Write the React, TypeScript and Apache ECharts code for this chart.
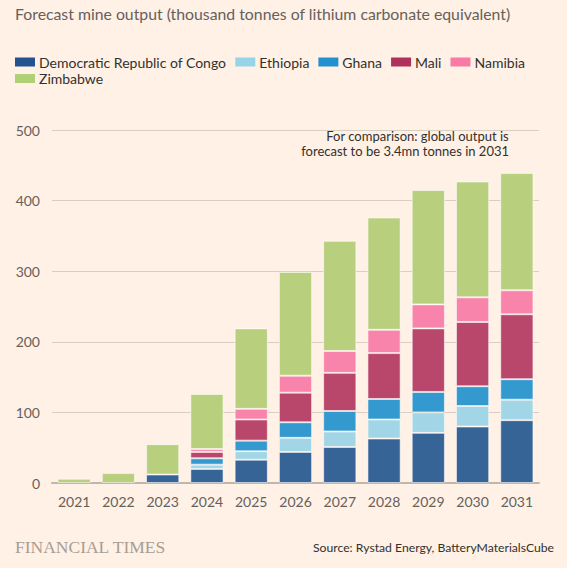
import React, { useEffect, useRef } from "react";
import * as echarts from "echarts";

const years = ["2021", "2022", "2023", "2024", "2025", "2026", "2027", "2028", "2029", "2030", "2031"];
const congo = [null, null, 12, 20, 33, 44, 51, 63, 71, 80, 89];
const ethiopia = [null, null, null, 6, 12, 20, 22, 27, 29, 29, 29];
const ghana = [null, null, null, 9, 15, 22, 29, 29, 29, 28, 29];
const mali = [null, null, null, 9, 30, 42, 54, 65, 90, 91, 92];
const namibia = [null, null, null, 4, 15, 24, 31, 33, 34, 35, 34];
const zimbabwe = [6, 14, 43, 78, 114, 147, 156, 159, 162, 164, 166];

const seriesNames = ["Democratic Republic of Congo", "Ethiopia", "Ghana", "Mali", "Namibia", "Zimbabwe"];
const seriesData = [congo, ethiopia, ghana, mali, namibia, zimbabwe];
const barColors = ["#376497", "#a2d5e6", "#3399cf", "#b9476b", "#f984ab", "#b8cf7e"];
const legendColors = ["#22538f", "#96d4e8", "#2390d0", "#b0305c", "#fa7aa6", "#b0d075"];

const annotationLines = ["For comparison: global output is", "forecast to be 3.4mn tonnes in 2031"];

const FONT = "Lato, 'Noto Sans', sans-serif";

export default function App() {
  const ref = useRef<HTMLDivElement>(null);
  useEffect(() => {
    if (!ref.current) return;
    const chart = echarts.init(ref.current, undefined, { renderer: "svg" });
    const legendItem = (i: number) => ({
      name: seriesNames[i],
      itemStyle: { color: legendColors[i], borderWidth: 0 },
    });
    const legendBase = {
      left: 15,
      padding: 0,
      itemWidth: 20,
      itemHeight: 9,
      itemGap: 9,
      icon: "rect",
      textStyle: { fontFamily: FONT, fontSize: 14, color: "#33302e", padding: [0, 0, 0, -1] },
      selectedMode: false,
    };
    chart.setOption({
      animation: false,
      backgroundColor: "#fff1e5",
      textStyle: { fontFamily: FONT },
      title: {
        text: "Forecast mine output (thousand tonnes of lithium carbonate equivalent)",
        left: 10,
        top: 0,
        textStyle: { fontFamily: FONT, fontSize: 15.8, fontWeight: "normal", color: "#66605c" },
      },
      legend: [
        { ...legendBase, data: [0, 1, 2, 3, 4].map(legendItem), top: 55 },
        { ...legendBase, data: [5].map(legendItem), top: 71.5 },
      ],
      grid: { left: 52, right: 28, top: 130, bottom: 85, containLabel: false },
      xAxis: {
        type: "category",
        data: years,
        axisLine: { lineStyle: { color: "#c2b5aa", width: 2 } },
        axisTick: { alignWithLabel: true, length: 7, lineStyle: { color: "#c2b5aa", width: 1.5 } },
        axisLabel: { fontFamily: FONT, fontSize: 14, color: "#66605c", margin: 11 },
      },
      yAxis: {
        type: "value",
        min: 0,
        max: 500,
        interval: 100,
        axisLine: { show: false },
        axisTick: { show: false },
        axisLabel: { fontFamily: FONT, fontSize: 14, color: "#66605c", margin: 12 },
        splitLine: { lineStyle: { color: "#dacec3", width: 1 } },
      },
      series: seriesNames.map((name, i) => ({
        name,
        type: "bar",
        stack: "total",
        barWidth: "75%",
        data: seriesData[i],
        itemStyle: {
          color: barColors[i],
          borderColor: "rgba(255,255,255,0.55)",
          borderWidth: 1,
        },
      })),
      graphic: [
        ...annotationLines.map((line, i) => ({
          type: "text",
          right: 58,
          top: 129 + i * 15,
          style: {
            text: line,
            fontFamily: FONT,
            fontSize: 13,
            fill: "#33302e",
          },
        })),
        {
          type: "text",
          left: 15,
          top: 538,
          style: {
            text: "FINANCIAL TIMES",
            fontFamily: "'Liberation Serif', 'DejaVu Serif', serif",
            fontSize: 17.5,
            fill: "#a89d94",
          },
        },
        {
          type: "text",
          right: 13,
          top: 541,
          style: {
            text: "Source: Rystad Energy, BatteryMaterialsCube",
            fontFamily: FONT,
            fontSize: 12.2,
            fill: "#33302e",
          },
        },
      ],
    });
    return () => chart.dispose();
  }, []);
  return <div ref={ref} style={{ width: 567, height: 568, position: "absolute", left: 0, top: 0 }} />;
}
